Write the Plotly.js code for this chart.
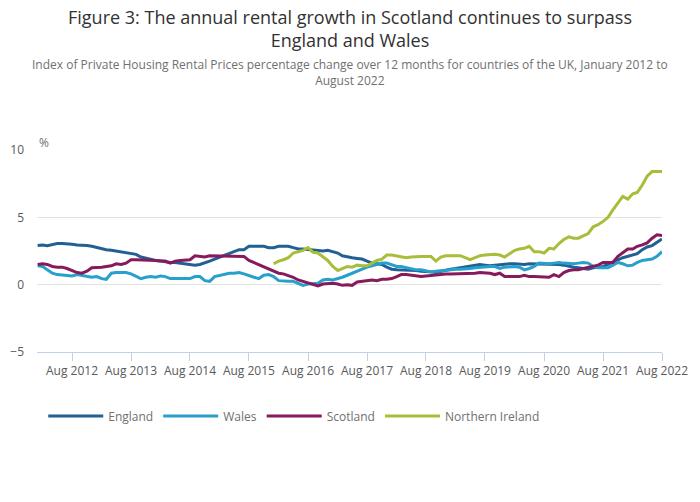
<!DOCTYPE html>
<html>
<head>
<meta charset="utf-8">
<script src="https://cdn.plot.ly/plotly-3.0.1.min.js"></script>
<style>html,body{margin:0;padding:0;background:#fff;}#chart{width:700px;height:502px;}</style>
</head>
<body>
<div id="chart"></div>
<script>
// Monthly series, January 2012 to August 2022 (128 months)
var startYear = 2012, startMonth = 1, monthCount = 128;

var england = [
 2.9, 2.95, 2.9, 3.0, 3.05, 3.05, 3.05, 3.0, 2.95, 2.95, 2.9, 2.85,
 2.75, 2.7, 2.6, 2.55, 2.5, 2.4, 2.35, 2.3, 2.25, 2.05, 1.95, 1.85,
 1.8, 1.75, 1.7, 1.65, 1.65, 1.6, 1.55, 1.45, 1.45, 1.5, 1.6, 1.75,
 1.9, 2.05, 2.15, 2.3, 2.5, 2.6, 2.6, 2.85, 2.85, 2.85, 2.85, 2.75,
 2.75, 2.85, 2.85, 2.85, 2.75, 2.65, 2.65, 2.6, 2.6, 2.55, 2.5, 2.55,
 2.45, 2.35, 2.15, 2.05, 2.0, 1.95, 1.9, 1.75, 1.6, 1.55, 1.5, 1.3,
 1.15, 1.1, 1.1, 1.1, 1.05, 1.05, 1.0, 1.0, 0.95, 0.9, 1.0, 1.1,
 1.15, 1.2, 1.25, 1.35, 1.4, 1.45, 1.5, 1.45, 1.4, 1.45, 1.5, 1.5,
 1.55, 1.55, 1.5, 1.5, 1.55, 1.55, 1.55, 1.55, 1.55, 1.55, 1.5, 1.45,
 1.35, 1.3, 1.25, 1.2, 1.15, 1.25, 1.3, 1.35, 1.5, 1.7, 1.85, 2.0,
 2.1, 2.2, 2.3, 2.6, 2.8, 2.9, 3.15, 3.4
];
var wales = [
 1.4, 1.35, 1.1, 0.85, 0.75, 0.7, 0.65, 0.65, 0.75, 0.7, 0.6, 0.55,
 0.6, 0.45, 0.4, 0.85, 0.9, 0.9, 0.9, 0.8, 0.6, 0.45, 0.55, 0.6,
 0.55, 0.65, 0.6, 0.45, 0.45, 0.45, 0.45, 0.45, 0.6, 0.6, 0.3, 0.25,
 0.6, 0.7, 0.8, 0.85, 0.85, 0.9, 0.8, 0.65, 0.55, 0.45, 0.7, 0.75,
 0.6, 0.3, 0.25, 0.25, 0.25, 0.1, -0.05, 0.05, 0.1, 0.1, 0.35, 0.4,
 0.35, 0.45, 0.55, 0.7, 0.85, 0.95, 1.15, 1.3, 1.4, 1.5, 1.6, 1.6,
 1.45, 1.35, 1.35, 1.25, 1.2, 1.1, 1.1, 1.05, 0.95, 1.0, 1.05, 1.1,
 1.1, 1.15, 1.15, 1.15, 1.2, 1.25, 1.3, 1.3, 1.35, 1.35, 1.2, 1.3,
 1.35, 1.35, 1.3, 1.1, 1.2, 1.35, 1.6, 1.55, 1.55, 1.6, 1.65, 1.6,
 1.55, 1.55, 1.6, 1.65, 1.6, 1.35, 1.25, 1.25, 1.25, 1.45, 1.65, 1.55,
 1.4, 1.45, 1.65, 1.8, 1.85, 1.9, 2.1, 2.45
];
var scotland = [
 1.5, 1.55, 1.5, 1.35, 1.3, 1.3, 1.2, 1.05, 0.9, 0.85, 1.0, 1.25,
 1.25, 1.3, 1.35, 1.4, 1.55, 1.5, 1.6, 1.85, 1.85, 1.85, 1.85, 1.8,
 1.8, 1.75, 1.75, 1.6, 1.75, 1.8, 1.85, 1.85, 2.15, 2.1, 2.05, 2.15,
 2.15, 2.15, 2.15, 2.15, 2.15, 2.15, 2.1, 1.8, 1.65, 1.45, 1.3, 1.15,
 1.0, 0.85, 0.8, 0.7, 0.55, 0.35, 0.25, 0.1, 0.0, -0.1, 0.05, 0.1,
 0.1, 0.05, -0.05, 0.0, -0.05, 0.2, 0.25, 0.3, 0.35, 0.3, 0.4, 0.4,
 0.45, 0.6, 0.75, 0.75, 0.7, 0.65, 0.6, 0.65, 0.7, 0.75, 0.8, 0.8,
 0.8, 0.8, 0.8, 0.8, 0.8, 0.85, 0.9, 0.9, 0.85, 0.75, 0.85, 0.6,
 0.6, 0.6, 0.6, 0.7, 0.6, 0.6, 0.6, 0.6, 0.55, 0.75, 0.6, 0.9,
 1.05, 1.1, 1.1, 1.2, 1.3, 1.35, 1.45, 1.65, 1.65, 1.65, 2.1, 2.4,
 2.65, 2.65, 2.85, 2.95, 3.1, 3.45, 3.7, 3.65
];
var northernIreland = [
 null, null, null, null, null, null, null, null, null, null, null, null,
 null, null, null, null, null, null, null, null, null, null, null, null,
 null, null, null, null, null, null, null, null, null, null, null, null,
 null, null, null, null, null, null, null, null, null, null, null, null,
 1.55, 1.75, 1.85, 2.0, 2.35, 2.45, 2.55, 2.75, 2.4, 2.35, 2.1, 1.8,
 1.35, 1.05, 1.2, 1.35, 1.3, 1.45, 1.4, 1.4, 1.6, 1.8, 1.9, 2.2,
 2.2, 2.15, 2.1, 2.0, 2.05, 2.1, 2.1, 2.1, 2.1, 1.75, 2.05, 2.15,
 2.15, 2.1, 2.15, 2.0, 1.85, 2.0, 2.15, 2.2, 2.25, 2.25, 2.2, 2.05,
 2.3, 2.55, 2.65, 2.7, 2.85, 2.45, 2.45, 2.35, 2.7, 2.65, 3.05, 3.35,
 3.55, 3.45, 3.45, 3.6, 3.8, 4.3, 4.45, 4.7, 5.0, 5.55, 6.05, 6.55,
 6.35, 6.75, 6.85, 7.4, 8.05, 8.4, 8.4, 8.4
];

var seriesNames = ["England", "Wales", "Scotland", "Northern Ireland"];
var seriesColors = ["#206095", "#27a0cc", "#871a5b", "#a8bd3a"];
var tickDates = ["2012-08-01","2013-08-01","2014-08-01","2015-08-01","2016-08-01","2017-08-01","2018-08-01","2019-08-01","2020-08-01","2021-08-01","2022-08-01"];
var tickLabels = ["Aug 2012","Aug 2013","Aug 2014","Aug 2015","Aug 2016","Aug 2017","Aug 2018","Aug 2019","Aug 2020","Aug 2021","Aug 2022"];
var yTicks = [-5, 0, 5, 10];
var titleText = "Figure 3: The annual rental growth in Scotland continues to surpass<br>England and Wales";
var subtitleText = "Index of Private Housing Rental Prices percentage change over 12 months for countries of the UK, January 2012 to<br>August 2022";

var dates = [];
for (var i = 0; i < monthCount; i++) {
  var mi = startMonth - 1 + i;
  var y = startYear + Math.floor(mi / 12);
  var m = (mi % 12) + 1;
  dates.push(y + "-" + (m < 10 ? "0" + m : m) + "-01");
}

var allSeries = [england, wales, scotland, northernIreland];
var traces = allSeries.map(function (vals, k) {
  return {
    x: dates, y: vals, type: "scatter", mode: "lines",
    name: seriesNames[k],
    line: {color: seriesColors[k], width: 3},
    connectgaps: false
  };
});

var font = "'Open Sans', 'Noto Sans', sans-serif";
var plotTop = 150;
function headAnn(text, centerY, size, color) {
  return {
    text: text, xref: "paper", yref: "paper", x: 0.5, xanchor: "center",
    y: 1, yanchor: "middle", yshift: plotTop - centerY, showarrow: false,
    align: "center",
    font: {family: font, size: size, color: color}
  };
}

var layout = {
  width: 700, height: 502,
  paper_bgcolor: "#fff", plot_bgcolor: "#fff",
  margin: {l: 37, r: 38, t: 150, b: 150},
  font: {family: font, color: "#595959", size: 12},
  showlegend: true,
  legend: {
    orientation: "h", x: 0.01, xanchor: "left", y: -0.317, yanchor: "middle",
    font: {family: font, size: 12, color: "#707070"},
    itemwidth: 55, traceorder: "normal"
  },
  xaxis: {
    type: "date",
    range: ["2011-12-28", "2022-08-01"],
    tickvals: tickDates, ticktext: tickLabels,
    showgrid: false, zeroline: false,
    showline: true, linecolor: "#bfd0e8", linewidth: 1,
    ticks: "outside", ticklen: 8, tickcolor: "#bfd0e8", tickwidth: 1,
    tickfont: {family: font, size: 12, color: "#595959"}
  },
  yaxis: {
    range: [-5, 10], tickvals: yTicks,
    showgrid: true, gridcolor: "#e2e2e2", gridwidth: 1,
    zeroline: false, showline: false, ticks: "",
    ticklabelstandoff: 12,
    tickfont: {family: font, size: 12, color: "#595959"}
  },
  annotations: [
    headAnn(titleText, 28, 18, "#323132"),
    headAnn(subtitleText, 72.5, 12, "#707070"),
    {
      text: "%", xref: "paper", yref: "y", x: 0, xanchor: "left",
      y: 10, yanchor: "bottom", yshift: -3, showarrow: false,
      font: {family: font, size: 12, color: "#707070"}
    }
  ]
};

Plotly.newPlot("chart", traces, layout, {displayModeBar: false, staticPlot: true});
</script>
</body>
</html>
